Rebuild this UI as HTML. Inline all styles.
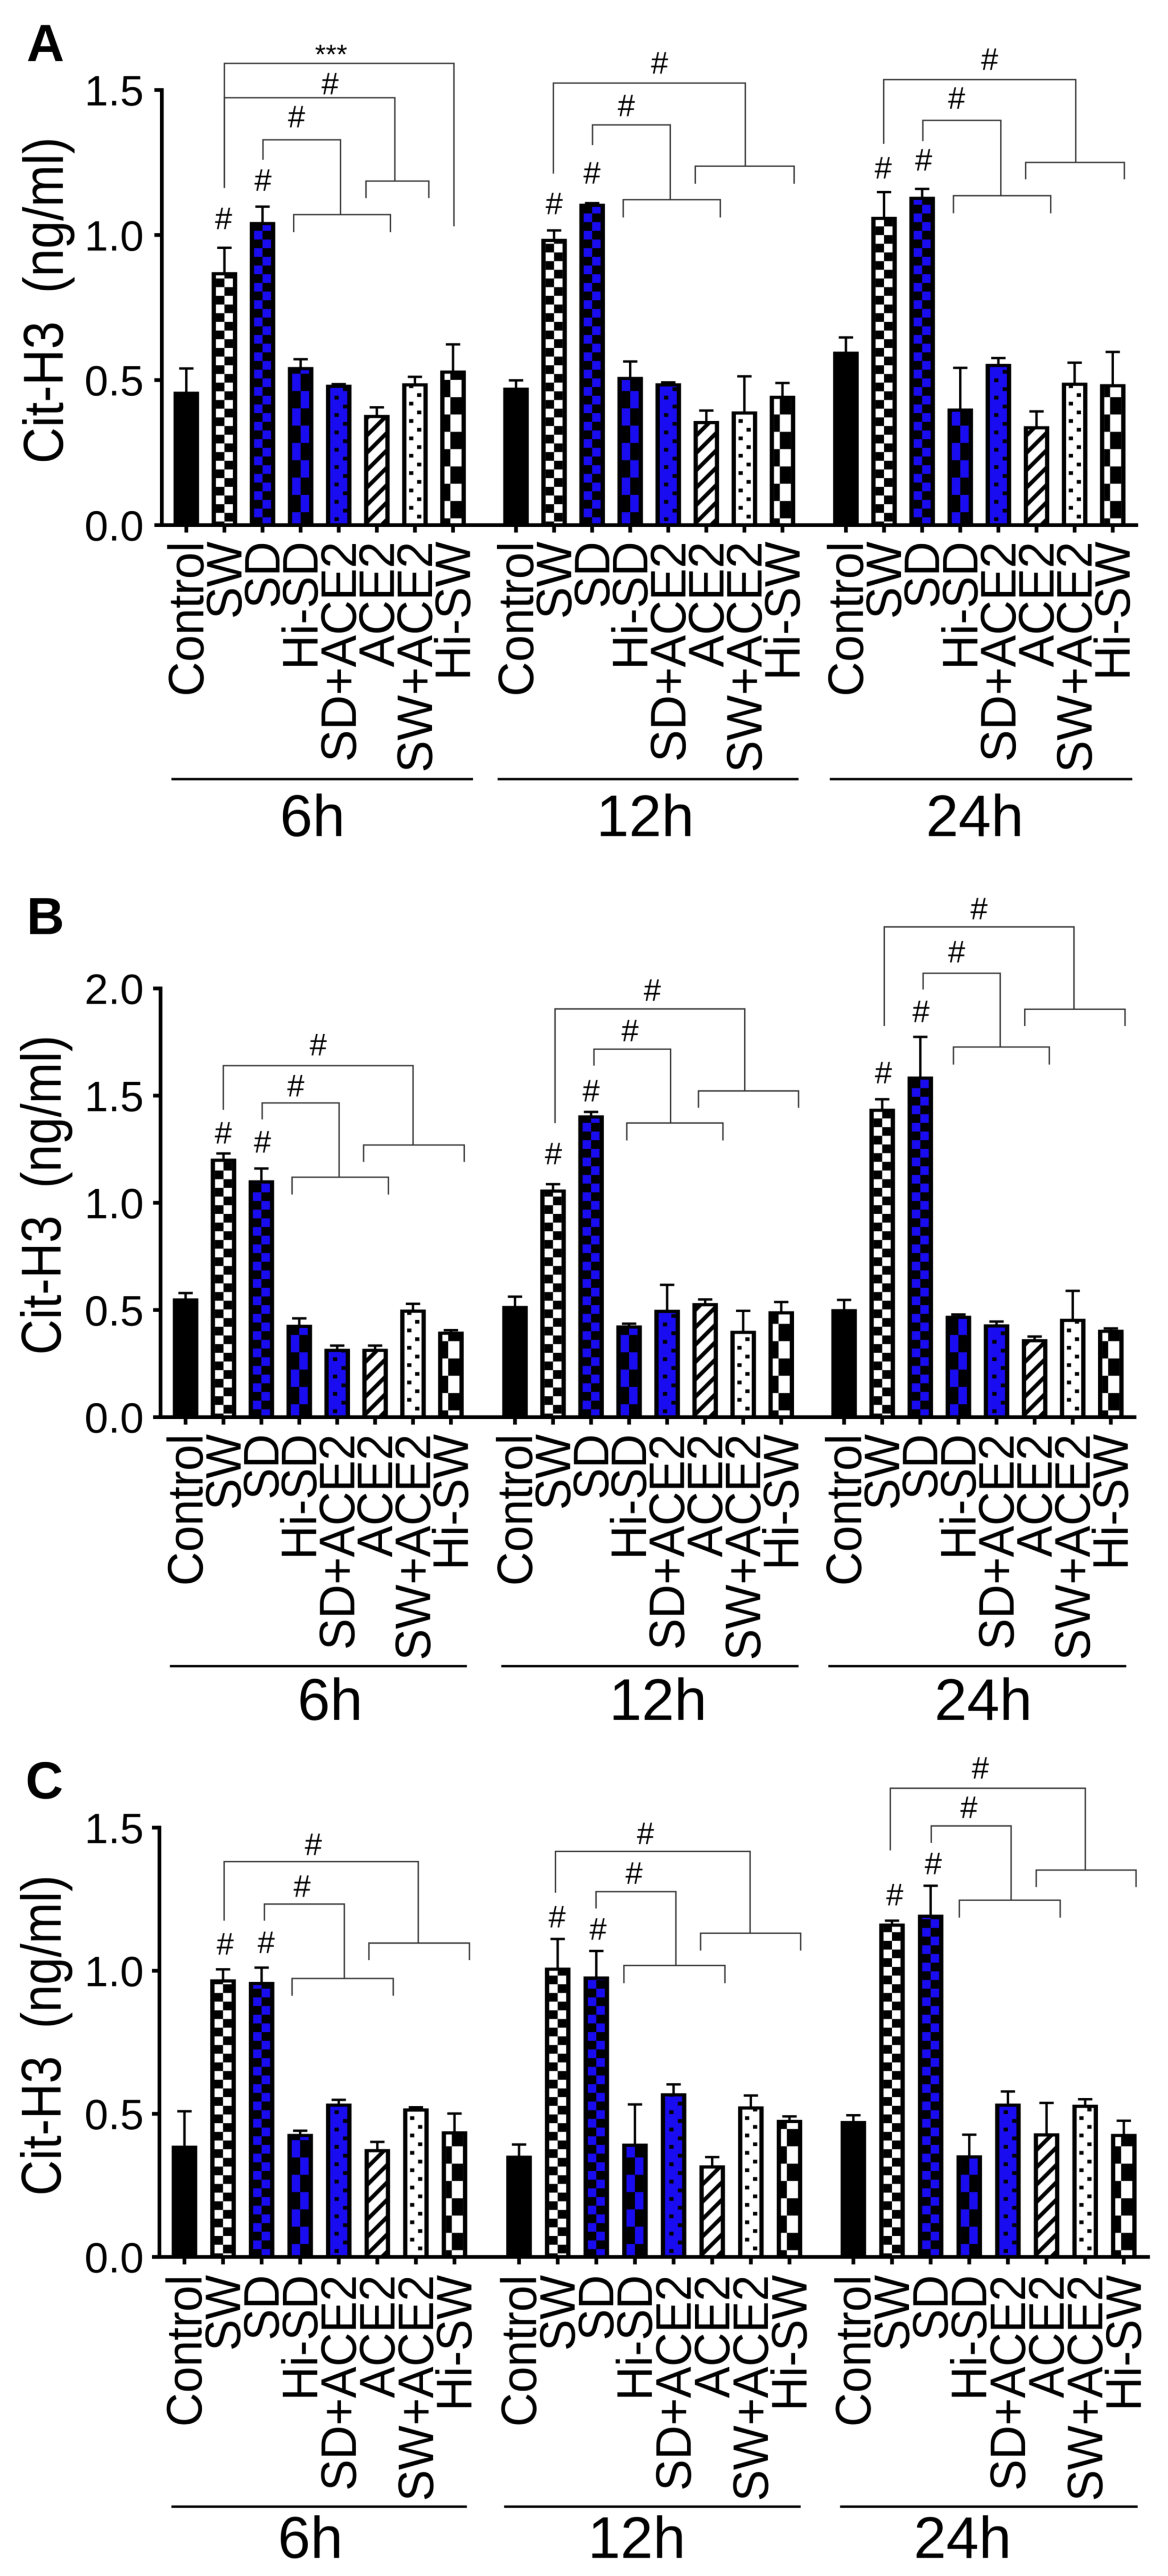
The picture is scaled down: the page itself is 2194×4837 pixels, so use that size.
<!DOCTYPE html>
<html lang="en">
<head>
<meta charset="utf-8">
<title>Cit-H3 levels by treatment and time</title>
<style>
html,body{margin:0;padding:0;background:#fff;}
svg{display:block;filter:blur(0.6px);}
text{font-family:"Liberation Sans",Arial,sans-serif;fill:#000;}
.br path{fill:none;stroke:#333;stroke-width:2.6;}
.h{font-size:58px;text-anchor:middle;}
</style>
</head>
<body>
<svg id="figure" xmlns="http://www.w3.org/2000/svg" width="2194" height="4837" viewBox="0 0 2194 4837">
<defs>
<pattern id="p-sw" patternUnits="userSpaceOnUse" x="-16" y="-39.3" width="32" height="32.6">
<rect width="32" height="32.6" fill="#fff"/><rect x="0" y="0" width="16" height="16.3" fill="#000"/><rect x="16" y="16.3" width="16" height="16.3" fill="#000"/>
</pattern>
<pattern id="p-sd" patternUnits="userSpaceOnUse" x="-16" y="-31" width="32" height="32.6">
<rect width="32" height="32.6" fill="#000"/><rect x="0" y="0" width="16" height="16.3" fill="#1a0cf0"/><rect x="16" y="16.3" width="16" height="16.3" fill="#1a0cf0"/>
</pattern>
<pattern id="p-hisd" patternUnits="userSpaceOnUse" x="-16" y="-89.3" width="32" height="65">
<rect width="32" height="65" fill="#000"/><rect x="0" y="0" width="16" height="32.5" fill="#1a0cf0"/><rect x="16" y="32.5" width="16" height="32.5" fill="#1a0cf0"/>
</pattern>
<pattern id="p-sdace" patternUnits="userSpaceOnUse" x="-16" y="-43.6" width="32" height="32.6">
<rect width="32" height="32.6" fill="#1a0cf0"/><rect x="8" y="29" width="8" height="7" fill="#000"/><rect x="8" y="-3.6" width="8" height="7" fill="#000"/><rect x="24" y="13" width="8" height="7" fill="#000"/>
</pattern>
<pattern id="p-ace" patternUnits="userSpaceOnUse" x="-16" y="-40.6" width="32.6" height="32.6">
<rect width="32.6" height="32.6" fill="#fff"/><path d="M-8 40.6L40.6 -8M-8 8L8 -8M24.6 40.6L40.6 24.6" stroke="#000" stroke-width="7.5" fill="none"/>
</pattern>
<pattern id="p-swace" patternUnits="userSpaceOnUse" x="-16" y="-49" width="32" height="32.6">
<rect width="32" height="32.6" fill="#fff"/><rect x="5" y="13" width="8" height="7" fill="#000"/><rect x="20" y="29.5" width="8" height="7" fill="#000"/><rect x="20" y="-3.1" width="8" height="7" fill="#000"/>
</pattern>
<pattern id="p-hisw" patternUnits="userSpaceOnUse" x="-16" y="-77.7" width="32" height="65">
<rect width="32" height="65" fill="#000"/><rect x="11" y="0" width="21" height="32.5" fill="#fff"/><rect x="0" y="32.5" width="11" height="32.5" fill="#fff"/>
</pattern>
</defs>

<text x="50" y="115" font-size="98" font-weight="700">A</text>
<text x="50" y="1754" font-size="98" font-weight="700">B</text>
<text x="48" y="3377" font-size="98" font-weight="700">C</text>

<text transform="translate(118,564) rotate(-90)" text-anchor="middle" font-size="106" textLength="613" lengthAdjust="spacingAndGlyphs">Cit-H3&#160; (ng/ml)</text>
<text transform="translate(114,2244) rotate(-90)" text-anchor="middle" font-size="106" textLength="600" lengthAdjust="spacingAndGlyphs">Cit-H3&#160; (ng/ml)</text>
<text transform="translate(114,3822) rotate(-90)" text-anchor="middle" font-size="106" textLength="602" lengthAdjust="spacingAndGlyphs">Cit-H3&#160; (ng/ml)</text>

<g id="marks"></g>

<g class="br">
<path d="M421.5 353V119H852.7V425"/>
<path d="M421.5 353V183.5H741.7V340"/>
<path d="M687.5 372V340H805.5V372"/>
<path d="M494 300V262.5H639.7V403"/>
<path d="M551.7 436V403H733.4V436"/>
<path d="M1039.5 326V156H1400V312"/>
<path d="M1306 345V312H1491.7V345"/>
<path d="M1113 272.5V234.5H1259V375"/>
<path d="M1170.7 408.4V375H1353V408.4"/>
<path d="M1660 270V149.4H2020.7V305"/>
<path d="M1926.6 336.8V305H2112V336.8"/>
<path d="M1733.5 265V226H1880V367.4"/>
<path d="M1791 400.5V367.4H1973.7V400.5"/>
</g>
<g>
<text class="h" x="622" y="120" style="font-size:52px;text-anchor:middle">***</text>
<text class="h" x="620" y="177">#</text>
<text class="h" x="557" y="239">#</text>
<text class="h" x="420" y="430">#</text>
<text class="h" x="494" y="358">#</text>
<text class="h" x="1239" y="138">#</text>
<text class="h" x="1176.5" y="218">#</text>
<text class="h" x="1041" y="402">#</text>
<text class="h" x="1112" y="344.5">#</text>
<text class="h" x="1859" y="131">#</text>
<text class="h" x="1797" y="204">#</text>
<text class="h" x="1659" y="335">#</text>
<text class="h" x="1735" y="320">#</text>
</g>

<g class="br">
<path d="M419.5 2084V2001H775.9V2150"/>
<path d="M683 2181.7V2150H872V2181.7"/>
<path d="M492.5 2102V2071H637V2210.5"/>
<path d="M548.6 2243V2210.5H729.6V2243"/>
<path d="M1042.6 2109V1894.4H1399V2048.4"/>
<path d="M1312 2080V2048.4H1500V2080"/>
<path d="M1115.7 2001V1970H1259.7V2108.7"/>
<path d="M1177.4 2141.5V2108.7H1358V2141.5"/>
<path d="M1661 1926.6V1740.4H2017.4V1895"/>
<path d="M1925 1926.6V1895H2113.3V1926.6"/>
<path d="M1734 1858V1827.5H1878.8V1966"/>
<path d="M1791 1999V1966H1971V1999"/>
</g>
<g>
<text class="h" x="597.7" y="1981.4">#</text>
<text class="h" x="555.6" y="2058.4">#</text>
<text class="h" x="419.5" y="2146.8">#</text>
<text class="h" x="493" y="2164">#</text>
<text class="h" x="1225.4" y="1879">#</text>
<text class="h" x="1183.5" y="1955">#</text>
<text class="h" x="1039.6" y="2186">#</text>
<text class="h" x="1110.4" y="2067.8">#</text>
<text class="h" x="1839" y="1726">#</text>
<text class="h" x="1797" y="1807">#</text>
<text class="h" x="1659.5" y="2034">#</text>
<text class="h" x="1730" y="1919">#</text>
</g>

<g class="br">
<path d="M421 3606.5V3495.6H785.7V3648.6"/>
<path d="M693 3680.5V3648.6H881.8V3680.5"/>
<path d="M496.7 3606.5V3575.3H646.8V3715"/>
<path d="M548.6 3747.5V3715H738.7V3747.5"/>
<path d="M1043.4 3554V3476.4H1409V3630"/>
<path d="M1316 3662.6V3630H1504V3662.6"/>
<path d="M1119.6 3583.6V3552H1269.6V3690.7"/>
<path d="M1172 3724V3690.7H1361.7V3724"/>
<path d="M1672.4 3474.5V3357.8H2038.7V3511.5"/>
<path d="M1946.5 3543.4V3511.5H2134V3543.4"/>
<path d="M1749.3 3460.5V3428.6H1899.3V3568"/>
<path d="M1802 3600.8V3568H1991.5V3600.8"/>
</g>
<g>
<text class="h" x="588.6" y="3483">#</text>
<text class="h" x="567.5" y="3561.5">#</text>
<text class="h" x="423" y="3670">#</text>
<text class="h" x="500" y="3667">#</text>
<text class="h" x="1212.5" y="3462.6">#</text>
<text class="h" x="1191" y="3537">#</text>
<text class="h" x="1046.5" y="3619">#</text>
<text class="h" x="1123.4" y="3642">#</text>
<text class="h" x="1841.5" y="3339.5">#</text>
<text class="h" x="1820" y="3413.5">#</text>
<text class="h" x="1680.8" y="3577.4">#</text>
<text class="h" x="1753" y="3518.8">#</text>
</g>
</svg>

<script>
const categories = ['Control','SW','SD','Hi-SD','SD+ACE2','ACE2','SW+ACE2','Hi-SW'];
const timepoints = ['6h','12h','24h'];
const ticksA = [0,0.5,1,1.5];
const ticksB = [0,0.5,1,1.5,2];
const ticksC = [0,0.5,1,1.5];

const meansA6h  = [0.46,0.872,1.045,0.545,0.484,0.38,0.489,0.533];
const errorsA6h = [0.08,0.084,0.053,0.027,0.002,0.026,0.022,0.09];
const meansA12h  = [0.474,0.987,1.108,0.511,0.489,0.359,0.392,0.446];
const errorsA12h = [0.025,0.029,0.002,0.053,0.003,0.036,0.121,0.044];
const meansA24h  = [0.598,1.063,1.132,0.402,0.556,0.341,0.491,0.486];
const errorsA24h = [0.049,0.085,0.027,0.14,0.02,0.051,0.069,0.111];

const meansB6h  = [0.554,1.206,1.105,0.431,0.319,0.319,0.502,0.399];
const errorsB6h = [0.025,0.024,0.055,0.03,0.015,0.015,0.027,0.007];
const meansB12h  = [0.519,1.062,1.408,0.428,0.501,0.532,0.403,0.494];
const errorsB12h = [0.043,0.025,0.016,0.008,0.116,0.017,0.093,0.043];
const meansB24h  = [0.504,1.439,1.589,0.473,0.433,0.364,0.459,0.408];
const errorsB24h = [0.043,0.044,0.185,0.006,0.013,0.012,0.13,0.006];

const meansC6h  = [0.389,0.97,0.961,0.43,0.536,0.377,0.519,0.439];
const errorsC6h = [0.12,0.035,0.05,0.011,0.013,0.025,0.004,0.062];
const meansC12h  = [0.354,1.011,0.98,0.396,0.572,0.32,0.526,0.479];
const errorsC12h = [0.039,0.1,0.089,0.137,0.031,0.029,0.038,0.012];
const meansC24h  = [0.475,1.165,1.196,0.355,0.536,0.432,0.532,0.43];
const errorsC24h = [0.02,0.01,0.101,0.072,0.042,0.106,0.019,0.046];

const fills = [null,'p-sw','p-sd','p-hisd','p-sdace','p-ace','p-swace','p-hisw'];

const panels = [
  {id:'a',ticks:ticksA,means:[meansA6h,meansA12h,meansA24h],errors:[errorsA6h,errorsA12h,errorsA24h],
   y0:986,yTop:169,yMax:1.5,axisX:304,axisL:290,axisR:2138,first:[350,969.3,1589],step:[71.57,71.5,71.6],
   labelTop:1017,labelSize:94,labelScale:0.96,lineY:1463,lines:[[322,888.5],[934.7,1500],[1558.7,2127]],titleY:1570,titleX:[587,1212,1831]},
  {id:'b',ticks:ticksB,means:[meansB6h,meansB12h,meansB24h],errors:[errorsB6h,errorsB12h,errorsB24h],
   y0:2661,yTop:1856,yMax:2,axisX:301.6,axisL:287.6,axisR:2134.6,first:[348.6,967.4,1585.6],step:[71.2,71.44,71.57],
   labelTop:2693,labelSize:94,labelScale:0.94,lineY:3128.5,lines:[[319,877],[941.6,1500],[1556,2115.6]],titleY:3229.5,titleX:[620,1236,1847]},
  {id:'c',ticks:ticksC,means:[meansC6h,meansC12h,meansC24h],errors:[errorsC6h,errorsC12h,errorsC24h],
   y0:4237.9,yTop:3431.8,yMax:1.5,axisX:299.5,axisL:285.5,axisR:2160,first:[346.5,975,1603],step:[72.46,72.57,72.57],
   labelTop:4272,labelSize:94,labelScale:0.94,lineY:4706.7,lines:[[322,877],[947,1504],[1578,2137]],titleY:4803,titleX:[583,1196,1808]}
];

const NS = 'http://www.w3.org/2000/svg';
const root = document.getElementById('marks');
function make(tag, parent, attrs, txt) {
  const el = document.createElementNS(NS, tag);
  for (const k in attrs) el.setAttribute(k, attrs[k]);
  if (txt !== undefined) el.textContent = txt;
  parent.appendChild(el);
  return el;
}
function yScale(p, v) { return p.y0 - (v / p.yMax) * (p.y0 - p.yTop); }
function xScale(p, g, c) { return p.first[g] + p.step[g] * c; }

panels.forEach(function (p) {
  const pg = make('g', root, {});
  
  

  timepoints.forEach(function (t, g) {
    categories.forEach(function (cat, c) {
      const x = xScale(p, g, c);
      const mean = p.means[g][c];
      const err = p.errors[g][c];
      const yBar = yScale(p, mean);
      const yErr = yScale(p, mean + err);
      const h = p.y0 - yBar;

      const stem = make('line', pg, {x1:x, x2:x, y1:yBar + 2, y2:yErr, stroke:'#000', 'stroke-width':4.5});
      
      
      const cap = make('line', pg, {x1:x - 13.5, x2:x + 13.5, y1:yErr, y2:yErr, stroke:'#000', 'stroke-width':4.5});
      
      

      const bar = make('g', pg, {transform:'translate(' + x + ',' + p.y0 + ')'});
      
      
      make('rect', bar, {x:-24, y:-h, width:48, height:h, fill:'#000'});
      if (fills[c]) {
        make('rect', bar, {x:-16, y:-h + 6, width:32, height:Math.max(h - 6, 0), fill:'url(#' + fills[c] + ')'});
      }

      const tick = make('line', pg, {x1:x, x2:x, y1:p.y0, y2:p.y0 + 14, stroke:'#000', 'stroke-width':7});
      
      

      const lx = x + 32;
      const lab = make('text', pg, {transform:'translate(' + lx + ',' + p.labelTop + ') rotate(-90) scale(' + p.labelScale + ',1)', 'text-anchor':'end', 'font-size':p.labelSize}, cat);
      
      
    });

    const ln = make('line', pg, {x1:p.lines[g][0], x2:p.lines[g][1], y1:p.lineY, y2:p.lineY, stroke:'#000', 'stroke-width':4.5});
    
    
    const title = make('text', pg, {x:p.titleX[g], y:p.titleY, 'text-anchor':'middle', 'font-size':110}, t);
    
    
  });

  const ya = make('line', pg, {x1:p.axisX, x2:p.axisX, y1:p.yTop - 3.5, y2:p.y0 + 3.5, stroke:'#000', 'stroke-width':7});
  
  
  const xa = make('line', pg, {x1:p.axisL, x2:p.axisR, y1:p.y0, y2:p.y0, stroke:'#000', 'stroke-width':7});
  
  

  p.ticks.forEach(function (v) {
    const y = yScale(p, v);
    const tk = make('line', pg, {x1:p.axisL, x2:p.axisX, y1:y, y2:y, stroke:'#000', 'stroke-width':7});
    
    
    const tl = make('text', pg, {x:270, y:y + 29, 'text-anchor':'end', 'font-size':80}, v.toFixed(1));
    
    
  });
});
</script>
</body>
</html>
